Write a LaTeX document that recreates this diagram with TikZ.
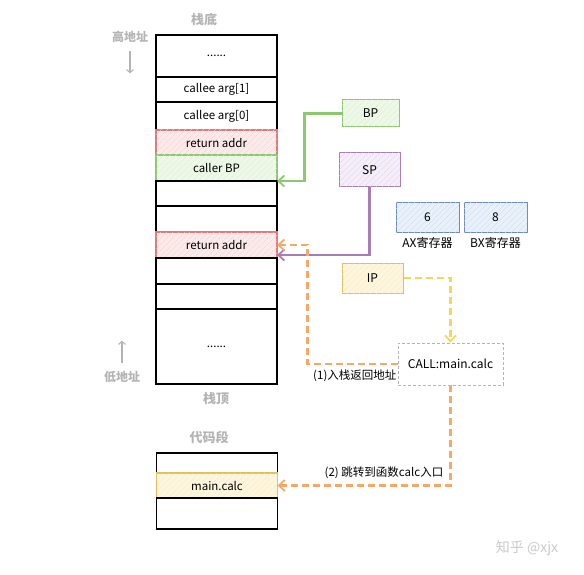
\documentclass[tikz,border=0pt]{standalone}
\usepackage{fontspec}
\setmainfont{Noto Sans CJK SC}
\usetikzlibrary{positioning,arrows.meta,patterns.meta}

\definecolor{redline}{HTML}{E07A7A}
\definecolor{redfill}{HTML}{FCE9E9}
\definecolor{greenline}{HTML}{8CC96E}
\definecolor{greenfill}{HTML}{EEF8E8}
\definecolor{purpleline}{HTML}{A77DB8}
\definecolor{purplefill}{HTML}{F4EEF8}
\definecolor{blueline}{HTML}{6C8EBF}
\definecolor{bluefill}{HTML}{E8F0F9}
\definecolor{yellowline}{HTML}{E3BE5F}
\definecolor{yellowfill}{HTML}{FDF5DC}
\definecolor{orangeline}{HTML}{F5A867}
\definecolor{yellowdash}{HTML}{F6D55C}
\definecolor{labelgray}{HTML}{B4B4B4}

\tikzset{
  cell/.style={draw=black, line width=1.2pt, minimum width=121pt, inner sep=0pt,
    outer sep=0pt, font=\fontsize{11.5}{13}\selectfont},
  hatch/.style 2 args={draw=#1, fill=#2,
    postaction={pattern={Lines[angle=45,distance=4pt,line width=0.3pt]}, pattern color=#1!35}},
  reg/.style={line width=1pt, inner sep=0pt, font=\fontsize{12}{14}\selectfont},
  graylabel/.style={text=labelgray, font=\fontsize{13}{15}\selectfont\bfseries},
  edgelabel/.style={font=\fontsize{11.5}{13}\selectfont, inner sep=1pt},
  solidarrow/.style={line width=2.3pt, -{Straight Barb[length=6pt,width=11pt,line width=1.8pt]}},
  dasharrow/.style={line width=2.5pt, dash pattern=on 7pt off 4pt,
    -{Straight Barb[length=6pt,width=11pt,line width=1.8pt]}},
  addrarrow/.style={draw=labelgray, line width=1.1pt, -{Straight Barb[length=3pt,width=7pt]}}
}

\begin{document}
\begin{tikzpicture}[x=1pt, y=-1pt]
  \useasboundingbox (0,0) rectangle (584,575);

  % stack
  \node[cell, minimum height=42pt] (s1) at (216.5,56) {......};
  \node[cell, minimum height=25pt, below=0pt of s1] (arg1) {callee arg[1]};
  \node[cell, minimum height=28pt, below=0pt of arg1] (arg0) {callee arg[0]};
  \node[cell, hatch={redline}{redfill}, minimum height=25pt, below=0pt of arg0] (ra1) {return addr};
  \node[cell, hatch={greenline}{greenfill}, minimum height=26pt, below=0pt of ra1] (cbp) {caller BP};
  \node[cell, minimum height=25pt, below=0pt of cbp] (e1) {};
  \node[cell, minimum height=26pt, below=0pt of e1] (e2) {};
  \node[cell, hatch={redline}{redfill}, minimum height=26pt, below=0pt of e2] (ra2) {return addr};
  \node[cell, minimum height=26pt, below=0pt of ra2] (e3) {};
  \node[cell, minimum height=25pt, below=0pt of e3] (e4) {};
  \node[cell, minimum height=75pt, below=0pt of e4] (s2) {......};

  \node[graylabel] (bottom) at (204,20) {栈底};
  \node[graylabel] (top) at (216,399) {栈顶};
  \node[graylabel, font=\fontsize{12}{14}\selectfont\bfseries] (hi) at (130,37) {高地址};
  \node[graylabel, font=\fontsize{12}{14}\selectfont\bfseries] (lo) at (122,377) {低地址};
  \draw[addrarrow] ([yshift=-5pt]hi.south) -- ++(0,22);
  \draw[addrarrow] ([yshift=5pt]lo.north) -- ++(0,-22);

  % code segment
  \node[graylabel] (code) at (209,437) {代码段};
  \node[cell, minimum height=20pt] (c1) at (217,463) {};
  \node[cell, hatch={yellowline}{yellowfill}, minimum height=25pt, below=0pt of c1] (mc) {main.calc};
  \node[cell, minimum height=31pt, below=0pt of mc] (c3) {};

  % registers
  \node[reg, hatch={greenline}{greenfill}, minimum width=57pt, minimum height=27pt] (bp) at (370.5,113.5) {BP};
  \node[reg, hatch={purpleline}{purplefill}, minimum width=61pt, minimum height=34pt] (sp) at (369.5,170) {SP};
  \node[reg, hatch={blueline}{bluefill}, minimum width=63pt, minimum height=29pt] (ax) at (427.5,217.5) {6};
  \node[reg, hatch={blueline}{bluefill}, minimum width=63pt, minimum height=29pt] (bx) at (495.5,217.5) {8};
  \node[font=\fontsize{12}{14}\selectfont, below=1pt of ax] (axl) {AX寄存器};
  \node[font=\fontsize{12}{14}\selectfont, below=1pt of bx] (bxl) {BX寄存器};
  \node[reg, hatch={yellowline}{yellowfill}, minimum width=61pt, minimum height=30pt] (ip) at (372.5,278) {IP};
  \node[reg, draw=labelgray, line width=0.8pt, dash pattern=on 3pt off 2pt,
    minimum width=105pt, minimum height=42pt] (call) at (450.5,364) {CALL:main.calc};

  % connectors
  \draw[solidarrow, greenline] (bp.west) -- ++(-37,0) |- (cbp.south east);
  \draw[solidarrow, purpleline] (sp.south) |- ([yshift=-10pt]ra2.east);
  \draw[dasharrow, yellowdash] (ip.east) -| (call.north);
  \draw[dasharrow, orangeline] (call.west) -- ++(-90,0) |- (ra2.east);
  \draw[dasharrow, orangeline] (call.south) |- (mc.east);

  \node[edgelabel, anchor=north east] (lab1) at ([yshift=-5pt]call.west) {(1)入栈返回地址};
  \node[edgelabel, anchor=south east] (lab2) at ([xshift=-6pt,yshift=6pt]call.south |- mc.east) {(2) 跳转到函数calc入口};

  \node[text=labelgray!70, font=\fontsize{14}{16}\selectfont] (mark) at (527,548) {知乎 @xjx};
\end{tikzpicture}
\end{document}
